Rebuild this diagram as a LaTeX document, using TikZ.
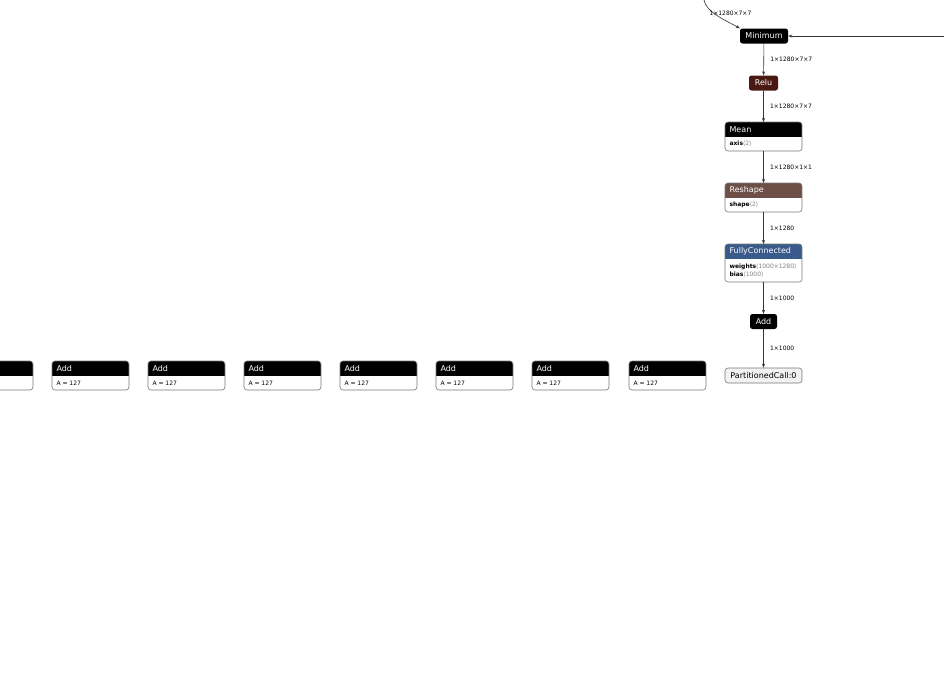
\documentclass[tikz,border=0pt]{standalone}
\usepackage{fontspec}
\setmainfont{DejaVu Sans}
\usetikzlibrary{arrows.meta}
\definecolor{relu}{HTML}{4A1A12}
\definecolor{resh}{HTML}{6D4F47}
\definecolor{fc}{HTML}{3A5A8C}
\definecolor{bord}{HTML}{777777}
\tikzset{
  edge/.style={draw=black!80,line width=0.6pt,-{Stealth[length=4pt,width=3pt]}},
  elab/.style={font=\fontsize{6}{7}\selectfont,anchor=west},
  ttl/.style={font=\fontsize{8}{9}\selectfont,text=white,anchor=west},
  bod/.style={font=\fontsize{6}{8}\selectfont,anchor=west,align=left},
  pill/.style={rounded corners=2.5pt,minimum height=15pt,inner sep=0pt,font=\fontsize{8}{9}\selectfont,text=white},
}
% name, x1, y1, ymid, y2, x2, color, title, body
\newcommand{\opbox}[9]{%
  \begin{scope}
    \clip[rounded corners=3pt] (#2,#3) rectangle (#6,#5);
    \fill[white] (#2,#3) rectangle (#6,#5);
    \fill[#7] (#2,#3) rectangle (#6,#4);
  \end{scope}
  \draw[bord,rounded corners=3pt,line width=0.6pt] (#2,#3) rectangle (#6,#5);
  \node[ttl] at (#2+1,{(#3+#4)/2}) {#8};
  \node[bod] at (#2+1,{(#4+#5)/2}) {#9};
  \coordinate (#1-t) at ({(#2+#6)/2},#3);
  \coordinate (#1-b) at ({(#2+#6)/2},#5);
}
\begin{document}
\begin{tikzpicture}[x=1pt,y=-1pt]
\useasboundingbox (0,0) rectangle (944,691);
\clip (0,0) rectangle (944,691);
\fill[white] (0,0) rectangle (944,691);

\node[pill,fill=black,minimum width=48pt] (min) at (764,36) {Minimum};
\node[pill,fill=relu,minimum width=29pt] (relu) at (763.5,83) {Relu};
\opbox{mean}{725}{122}{137}{151}{802}{black}{Mean}{\textbf{axis}\textcolor{gray}{⟨2⟩}}
\opbox{resh}{725}{183}{198}{212}{802}{resh}{Reshape}{\textbf{shape}\textcolor{gray}{⟨2⟩}}
\opbox{fc}{725}{244}{259}{282}{802}{fc}{FullyConnected}{\textbf{weights}\textcolor{gray}{⟨1000×1280⟩}\\\textbf{bias}\textcolor{gray}{⟨1000⟩}}
\node[pill,fill=black,minimum width=27pt] (add) at (763.5,321.5) {Add};
\node[draw=bord,fill=black!5,rounded corners=3pt,minimum width=77pt,minimum height=15pt,inner sep=0pt,font=\fontsize{8}{9}\selectfont,line width=0.6pt] (out) at (763.5,375.5) {PartitionedCall:0};

\opbox{b0}{-44}{361}{376}{390}{33}{black}{}{}
\foreach \x [count=\i] in {52,148,244,340,436,532,629}{
  \opbox{b\i}{\x}{361}{376}{390}{\x+77}{black}{Add}{A = 127}
}

\coordinate (top) at (704,0);
\coordinate (right) at (944,36);
\draw[edge] (top) .. controls (706,12) and (725,20) .. (min.north west) ;
\node[elab] at (706,13) {1×1280×7×7};
\draw[edge] (right) -- (min.east);
\draw[edge] (min) -- (relu) node[elab,midway,xshift=3pt] {1×1280×7×7};
\draw[edge] (relu) -- (mean-t) node[elab,midway,xshift=3pt] {1×1280×7×7};
\draw[edge] (mean-b) -- (resh-t) node[elab,midway,xshift=3pt] {1×1280×1×1};
\draw[edge] (resh-b) -- (fc-t) node[elab,midway,xshift=3pt] {1×1280};
\draw[edge] (fc-b) -- (add) node[elab,midway,xshift=3pt] {1×1000};
\draw[edge] (add) -- (out) node[elab,midway,xshift=3pt] {1×1000};
\end{tikzpicture}
\end{document}
